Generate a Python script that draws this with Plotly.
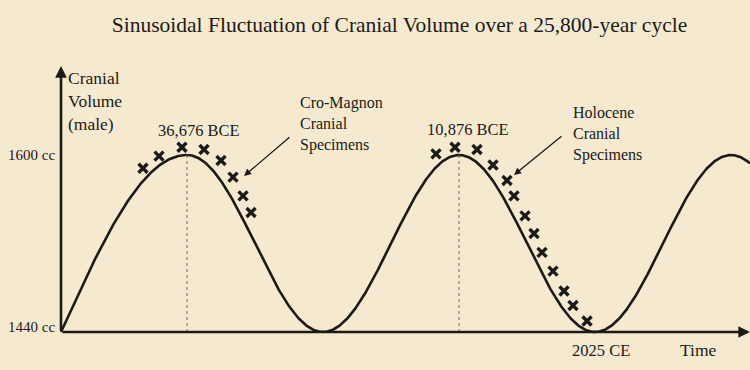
import numpy as np
import plotly.graph_objects as go

# ---- data ----
period_years = 25800
peak_years = [-36676, -10876]
trough_year = 2025
vol_min, vol_max = 1440, 1600
axis_start_year = -48626

cromagnon_years = [-40850, -39330, -37150, -35060, -33450, -32310, -31360, -30600]
cromagnon_cc = [1588, 1599, 1607, 1605, 1595, 1580, 1563, 1548]

holocene_years = [-13056, -11254, -9167, -7650, -6322, -5658, -4614, -3761, -3002, -1958, -915, -61, 1267]
holocene_cc = [1601, 1607, 1605, 1591, 1577, 1563, 1545, 1529, 1512, 1495, 1477, 1464, 1450]

y_tick_labels = ["1440 cc", "1600 cc"]

# ---- view ----
W, H = 750, 370
x_range = [-54412, 16725]
y_range = [1405.65, 1740.1]

def px_x(p):
    return x_range[0] + p / W * (x_range[1] - x_range[0])

def px_y(p):
    return y_range[1] - p / H * (y_range[1] - y_range[0])

mid = (vol_min + vol_max) / 2
amp = (vol_max - vol_min) / 2

t1 = np.linspace(axis_start_year, peak_years[0], 200)
c1 = vol_min + (vol_max - vol_min) * np.sin(np.pi / 2 * (t1 - axis_start_year) / (peak_years[0] - axis_start_year))
t2 = np.linspace(peak_years[0], x_range[1], 800)
c2 = mid + amp * np.cos(2 * np.pi * (t2 - peak_years[0]) / period_years)
curve_t = np.concatenate([t1, t2])
curve_c = np.concatenate([c1, c2])

ink = "#1c1a17"
bg = "#f5e9d0"
serif = "Liberation Serif, Times New Roman, serif"

fig = go.Figure()
fig.add_trace(go.Scatter(x=curve_t, y=curve_c, mode="lines",
                         line=dict(color=ink, width=2.6), hoverinfo="skip"))
fig.add_trace(go.Scatter(x=cromagnon_years, y=cromagnon_cc, mode="markers",
                         marker=dict(symbol="x-thin", size=9, color=ink,
                                     line=dict(width=3.4, color=ink))))
fig.add_trace(go.Scatter(x=holocene_years, y=holocene_cc, mode="markers",
                         marker=dict(symbol="x-thin", size=9, color=ink,
                                     line=dict(width=3.4, color=ink))))

# dotted guides at the peaks
for py in peak_years:
    fig.add_shape(type="line", x0=py, x1=py, y0=vol_min, y1=vol_max,
                  line=dict(color="#6d6a64", width=1, dash="dot"))

annos = []
# axes with arrows
annos.append(dict(x=axis_start_year, y=px_y(66), ax=axis_start_year, ay=vol_min,
                  axref="x", ayref="y", xref="x", yref="y", text="", showarrow=True,
                  arrowhead=2, arrowsize=0.9, arrowwidth=2.6, arrowcolor=ink))
annos.append(dict(x=px_x(750), y=vol_min, ax=axis_start_year, ay=vol_min,
                  axref="x", ayref="y", xref="x", yref="y", text="", showarrow=True,
                  arrowhead=2, arrowsize=0.9, arrowwidth=2.6, arrowcolor=ink))
# specimen arrows
annos.append(dict(x=px_x(244), y=px_y(176), ax=px_x(291), ay=px_y(136),
                  axref="x", ayref="y", xref="x", yref="y", text="", showarrow=True,
                  arrowhead=2, arrowsize=1.1, arrowwidth=1.3, arrowcolor=ink))
annos.append(dict(x=px_x(514), y=px_y(175), ax=px_x(563), ay=px_y(135),
                  axref="x", ayref="y", xref="x", yref="y", text="", showarrow=True,
                  arrowhead=2, arrowsize=1.1, arrowwidth=1.3, arrowcolor=ink))

def label(text, x, y, size, xanchor="center", align="center"):
    annos.append(dict(x=x, y=y, xref="x", yref="y", text=text, showarrow=False,
                      xanchor=xanchor, yanchor="middle", align=align,
                      font=dict(family=serif, size=size, color=ink)))

label(y_tick_labels[1], px_x(57), vol_max, 15, xanchor="right", align="right")
label(y_tick_labels[0], px_x(57), px_y(327), 15, xanchor="right", align="right")
label("Cranial<br>Volume<br>(male)", px_x(66), px_y(101), 17.5, xanchor="left", align="left")
label("36,676 BCE", px_x(199), px_y(130), 16.5)
label("10,876 BCE", px_x(468), px_y(129), 16.5)
label("Cro-Magnon<br>Cranial<br>Specimens", px_x(298), px_y(124), 16, xanchor="left", align="left")
label("Holocene<br>Cranial<br>Specimens", px_x(571), px_y(134), 16, xanchor="left", align="left")
label("2025 CE", px_x(601), px_y(350), 16.5)
label("Time", px_x(698), px_y(350), 17.5)

fig.update_layout(
    width=W, height=H, autosize=False,
    margin=dict(l=0, r=0, t=0, b=0),
    paper_bgcolor=bg, plot_bgcolor=bg,
    showlegend=False,
    title=dict(text="Sinusoidal Fluctuation of Cranial Volume over a 25,800-year cycle",
               x=399.5 / W, xanchor="center", y=1 - 24 / H, yanchor="middle",
               font=dict(family=serif, size=21.5, color=ink)),
    xaxis=dict(range=x_range, visible=False, fixedrange=True),
    yaxis=dict(range=y_range, visible=False, fixedrange=True),
    annotations=annos,
)

fig.write_html(
    "out.html",
    config={"displayModeBar": False},
    post_script=("document.body.style.margin='0';"
                 "document.body.style.background='" + bg + "';"
                 "document.body.style.overflow='hidden';"),
)
